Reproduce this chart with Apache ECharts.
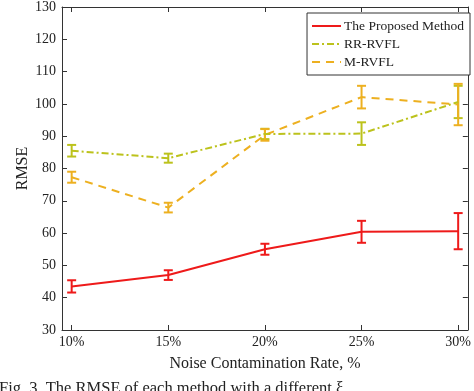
<!DOCTYPE html>
<html>
<head>
<meta charset="utf-8">
<script src="https://cdn.jsdelivr.net/npm/echarts@6/dist/echarts.min.js"></script>
<style>
html,body{margin:0;padding:0;background:#fff;}
#c{width:474px;height:391px;}
</style>
</head>
<body>
<div id="c"></div>
<script>
const rates = [10, 15, 20, 25, 30];
const yTicks = [30, 40, 50, 60, 70, 80, 90, 100, 110, 120, 130];
const seriesNames = ['The Proposed Method', 'RR-RVFL', 'M-RVFL'];
const proposedMean = [43.5, 47.0, 55.0, 60.4, 60.6];
const proposedErr  = [1.9, 1.5, 1.7, 3.4, 5.6];
const rrMean = [85.5, 83.2, 90.7, 90.8, 100.6];
const rrErr  = [1.8, 1.4, 1.6, 3.5, 5.0];
const mMean = [77.3, 67.9, 90.4, 102.1, 99.8];
const mErr  = [1.7, 1.5, 1.8, 3.5, 6.4];
const caption = 'Fig. 3. The RMSE of each method with a different ξ';

const colors = ['#ee1a1a', '#bcc21c', '#edb020'];
const font = 'Liberation Serif';

function pairs(mean){ return rates.map((r,i)=>[r, mean[i]]); }
function errs(mean, err){ return rates.map((r,i)=>[r, mean[i]-err[i], mean[i]+err[i]]); }

function errorSeries(mean, err, color){
  return {
    type: 'custom',
    data: errs(mean, err),
    z: 3,
    renderItem: function(params, api){
      const x = api.value(0), lo = api.value(1), hi = api.value(2);
      const a = api.coord([x, hi]), b = api.coord([x, lo]);
      const w = 4.5;
      const st = {stroke: color, lineWidth: 2};
      return {type: 'group', children: [
        {type: 'line', shape: {x1: a[0], y1: a[1], x2: b[0], y2: b[1]}, style: st},
        {type: 'line', shape: {x1: a[0]-w, y1: a[1], x2: a[0]+w, y2: a[1]}, style: st},
        {type: 'line', shape: {x1: b[0]-w, y1: b[1], x2: b[0]+w, y2: b[1]}, style: st}
      ]};
    }
  };
}

const axisLineStyle = {color: '#333', width: 1};
const chart = echarts.init(document.getElementById('c'));
chart.setOption({
  animation: false,
  backgroundColor: '#fff',
  textStyle: {fontFamily: font},
  grid: {left: 62, right: 3, top: 5, bottom: 61, containLabel: false},
  legend: {
    data: seriesNames,
    orient: 'vertical',
    right: 4,
    top: 13,
    itemWidth: 29,
    itemHeight: 10,
    itemGap: 4,
    padding: [6, 6, 6, 4],
    borderColor: '#333',
    borderWidth: 1,
    backgroundColor: '#fff',
    itemStyle: {opacity: 0},
    textStyle: {fontFamily: font, fontSize: 13.5, color: '#222', padding: [0,0,0,-2]}
  },
  xAxis: [{
    type: 'value', min: 9.5, max: 30.5, position: 'bottom',
    name: 'Noise Contamination Rate, %', nameLocation: 'middle', nameGap: 26,
    nameMoveOverlap: false,
    nameTextStyle: {fontFamily: font, fontSize: 16, color: '#222'},
    axisLine: {show: true, lineStyle: axisLineStyle},
    axisTick: {show: true, inside: true, length: 5, customValues: rates, lineStyle: axisLineStyle},
    axisLabel: {customValues: rates, formatter: '{value}%', fontFamily: font, fontSize: 14, color: '#222', margin: 5},
    splitLine: {show: false}
  }, {
    type: 'value', min: 9.5, max: 30.5, position: 'top',
    axisLine: {show: true, lineStyle: axisLineStyle},
    axisTick: {show: true, inside: true, length: 5, customValues: rates, lineStyle: axisLineStyle},
    axisLabel: {show: false},
    splitLine: {show: false}
  }],
  yAxis: [{
    type: 'value', min: 30, max: 130, interval: 10, position: 'left',
    name: 'RMSE', nameLocation: 'middle', nameGap: 31, nameRotate: 90,
    nameMoveOverlap: false,
    nameTextStyle: {fontFamily: font, fontSize: 16, color: '#222'},
    axisLine: {show: true, lineStyle: axisLineStyle},
    axisTick: {show: true, inside: true, length: 5, lineStyle: axisLineStyle},
    axisLabel: {fontFamily: font, fontSize: 14, color: '#222', margin: 6},
    splitLine: {show: false}
  }, {
    type: 'value', min: 30, max: 130, interval: 10, position: 'right',
    axisLine: {show: true, lineStyle: axisLineStyle},
    axisTick: {show: true, inside: true, length: 5, lineStyle: axisLineStyle},
    axisLabel: {show: false},
    splitLine: {show: false}
  }],
  graphic: [{
    type: 'text', left: -1, top: 380,
    style: {text: caption, fontFamily: font, fontSize: 16.5, fill: '#222'}
  }],
  series: [
    {name: seriesNames[0], type: 'line', data: pairs(proposedMean), symbol: 'none', z: 4,
     lineStyle: {color: colors[0], width: 2}, itemStyle: {color: colors[0]}},
    {name: seriesNames[1], type: 'line', data: pairs(rrMean), symbol: 'none', z: 3,
     lineStyle: {color: colors[1], width: 2, type: [7, 3, 2, 3]}, itemStyle: {color: colors[1]}},
    {name: seriesNames[2], type: 'line', data: pairs(mMean), symbol: 'none', z: 2,
     lineStyle: {color: colors[2], width: 2, type: [8, 6]}, itemStyle: {color: colors[2]}},
    errorSeries(proposedMean, proposedErr, colors[0]),
    errorSeries(rrMean, rrErr, colors[1]),
    errorSeries(mMean, mErr, colors[2])
  ]
});
</script>
</body>
</html>
